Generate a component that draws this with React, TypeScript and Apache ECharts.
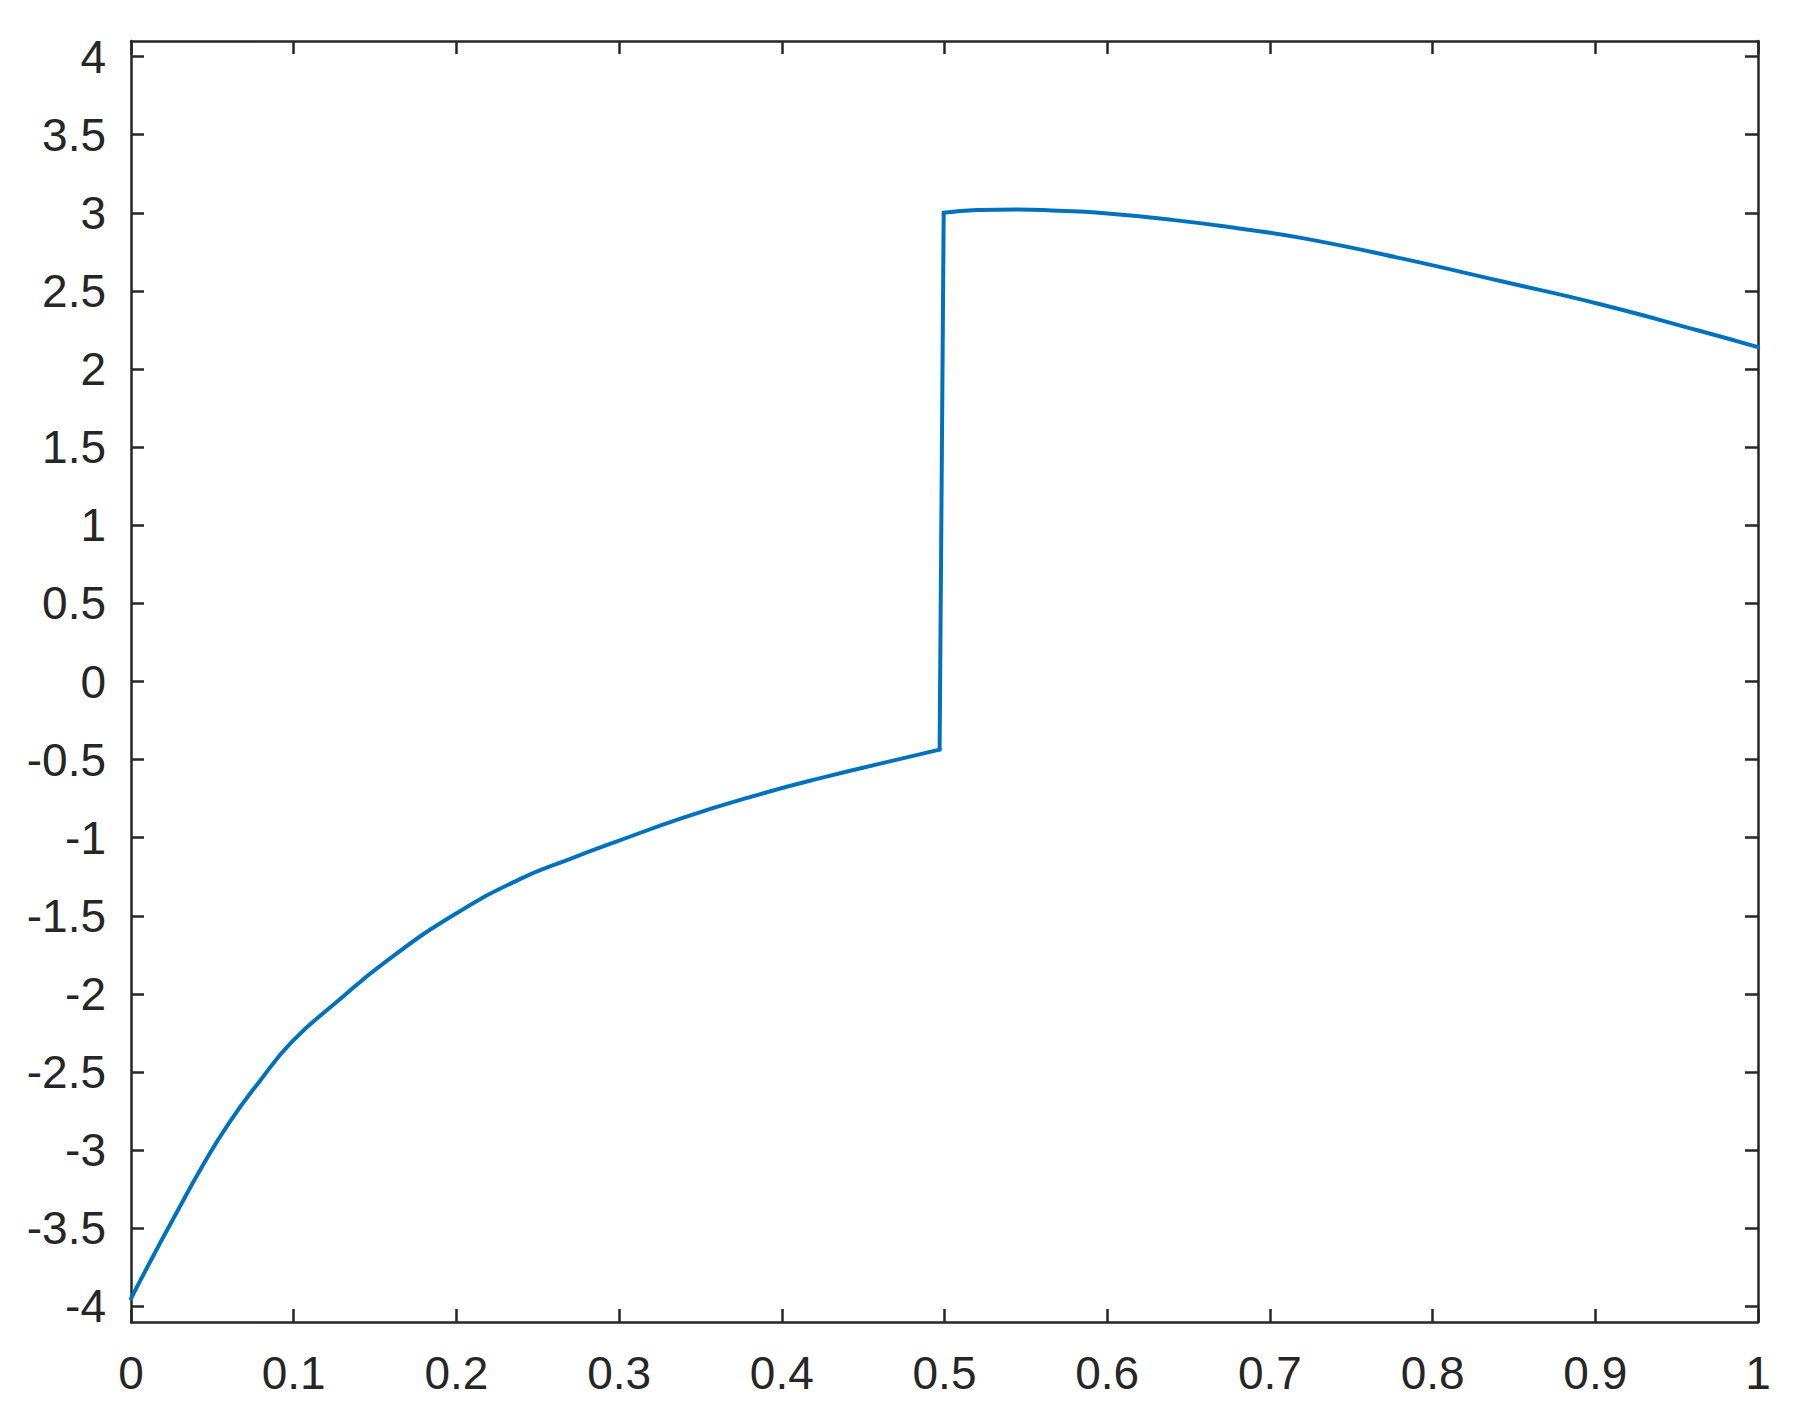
import React, { useEffect, useRef } from "react";
import * as echarts from "echarts";

// Left branch (before the jump)
const leftX = [
  0.0, 0.013, 0.027, 0.044, 0.06, 0.079, 0.099, 0.126, 0.157, 0.199, 0.239, 0.27, 0.297,
  0.34, 0.382, 0.425, 0.467, 0.497,
];
const leftY = [
  -3.95, -3.69, -3.42, -3.1, -2.83, -2.56, -2.305, -2.055, -1.79, -1.49, -1.265, -1.135, -1.03,
  -0.87, -0.735, -0.615, -0.51, -0.436,
];
// Right branch (after the jump)
const rightX = [0.4995, 0.52, 0.545, 0.57, 0.595, 0.64, 0.681, 0.72, 0.78, 0.841, 0.903, 0.964, 1.0];
const rightY = [3.0, 3.018, 3.022, 3.013, 3.0, 2.955, 2.9, 2.838, 2.71, 2.565, 2.415, 2.245, 2.14];

const yTicks = [-4, -3.5, -3, -2.5, -2, -1.5, -1, -0.5, 0, 0.5, 1, 1.5, 2, 2.5, 3, 3.5, 4];

const AXIS_COLOR = "#262626";
const LINE_COLOR = "#0072BD";
const FONT = "'Liberation Sans', Arial, sans-serif";

export default function App() {
  const ref = useRef<HTMLDivElement>(null);
  useEffect(() => {
    if (!ref.current) return;
    const chart = echarts.init(ref.current, undefined, { renderer: "svg" });
    const leftData = leftX.map((x, i) => [x, leftY[i]]);
    const rightData = rightX.map((x, i) => [x, rightY[i]]);
    const jumpData = [leftData[leftData.length - 1], rightData[0]];
    const axisLine = { show: true, onZero: false, lineStyle: { color: AXIS_COLOR, width: 2.5 } };
    const tick = { show: true, inside: true, length: 13, lineStyle: { color: AXIS_COLOR, width: 2.5 } };
    const label = { color: AXIS_COLOR, fontSize: 46, fontFamily: FONT };
    const lineStyle = { color: LINE_COLOR, width: 4, cap: "round", join: "round" };
    chart.setOption({
      animation: false,
      backgroundColor: "#ffffff",
      grid: { left: 131, right: 41, top: 41, bottom: 104, containLabel: false },
      xAxis: [
        {
          type: "value",
          position: "bottom",
          min: 0,
          max: 1,
          interval: 0.1,
          axisLine,
          axisTick: tick,
          axisLabel: { ...label, margin: 28 },
          splitLine: { show: false },
        },
        {
          type: "value",
          position: "top",
          min: 0,
          max: 1,
          interval: 0.1,
          axisLine,
          axisTick: tick,
          axisLabel: { show: false },
          splitLine: { show: false },
        },
      ],
      yAxis: [
        {
          type: "value",
          position: "left",
          min: -4.1,
          max: 4.1,
          axisLine,
          axisTick: { ...tick, customValues: yTicks },
          axisLabel: { ...label, margin: 25, customValues: yTicks },
          splitLine: { show: false },
        },
        {
          type: "value",
          position: "right",
          min: -4.1,
          max: 4.1,
          axisLine,
          axisTick: { ...tick, customValues: yTicks },
          axisLabel: { show: false, customValues: yTicks },
          splitLine: { show: false },
        },
      ],
      series: [
        {
          type: "line",
          xAxisIndex: 0,
          yAxisIndex: 0,
          data: leftData,
          symbol: "none",
          lineStyle,
          smooth: 0.5,
        },
        {
          type: "line",
          xAxisIndex: 0,
          yAxisIndex: 0,
          data: jumpData,
          symbol: "none",
          lineStyle,
          smooth: false,
        },
        {
          type: "line",
          xAxisIndex: 0,
          yAxisIndex: 0,
          data: rightData,
          symbol: "none",
          lineStyle,
          smooth: 0.5,
        },
      ],
    });
    return () => chart.dispose();
  }, []);
  return (
    <div
      ref={ref}
      style={{ position: "fixed", left: 0, top: 0, width: 1799, height: 1426, background: "#fff" }}
    />
  );
}
